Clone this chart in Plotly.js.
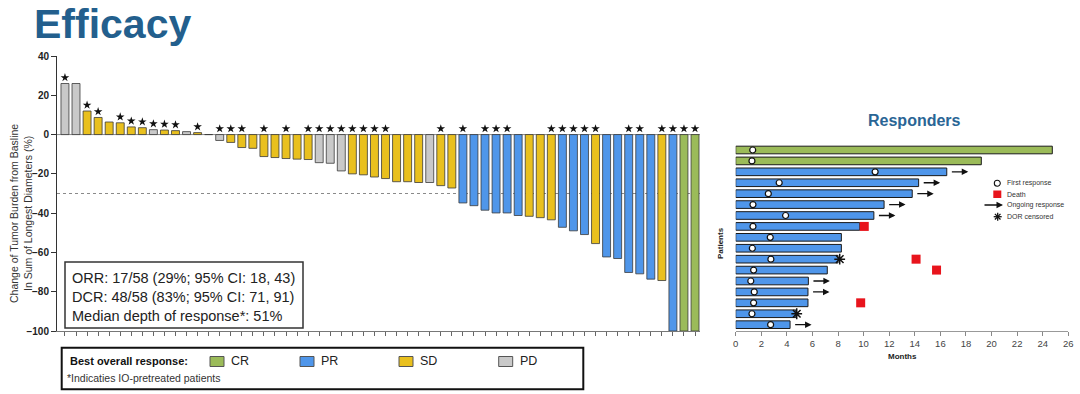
<!DOCTYPE html>
<html>
<head>
<meta charset="utf-8">
<script src="https://cdn.plot.ly/plotly-3.0.1.min.js"></script>
<style>html,body{margin:0;padding:0;background:#fff;}#chart{width:1080px;height:394px;}</style>
</head>
<body>
<div id="chart"></div>
<script>
// ---------- Waterfall data (one entry per patient, sorted) ----------
const wfValues = [26,26,12,8.7,6.4,6,3.9,3.5,2.5,2.3,2,1.5,1,0,-3,-4,-6.6,-7,-11.2,-11.7,-12.2,-12.5,-12.7,-14.3,-14.6,-18.5,-20,-20.5,-21.6,-22.4,-24,-24,-24.4,-24.4,-26,-27.2,-34.8,-36.2,-38.5,-39.9,-39.9,-41.2,-41.6,-42.3,-43.4,-47.2,-49,-50.9,-55.5,-62.3,-63.1,-70.2,-70.9,-73.6,-74.3,-100,-100,-100];
const wfResponse = ['PD','PD','SD','SD','SD','SD','SD','SD','PD','SD','SD','PD','SD','PD','PD','SD','SD','SD','SD','SD','SD','SD','SD','PD','PD','PD','SD','SD','SD','SD','SD','SD','SD','PD','SD','SD','PR','PR','PR','PR','PR','PR','SD','SD','SD','PR','PR','PR','SD','PR','PR','PR','PR','PR','SD','PR','CR','CR'];
const wfIO = [1,0,1,1,0,1,1,1,1,1,1,0,1,0,1,1,1,0,1,0,1,0,1,1,1,1,1,1,1,1,0,0,0,0,1,0,1,0,1,1,1,0,0,0,1,1,1,1,1,0,0,1,1,0,1,1,1,1];
const wfYTicks = [40,20,0,-20,-40,-60,-80,-100];
const thresholdLine = -30;

// ---------- Legend / stats text ----------
const responseCats = ['CR','PR','SD','PD'];
const statsLines = ['ORR: 17/58 (29%; 95% CI: 18, 43)','DCR: 48/58 (83%; 95% CI: 71, 91)','Median depth of response*: 51%'];

// ---------- Swimmer (responders) data ----------
const swResponse = ['CR','CR','PR','PR','PR','PR','PR','PR','PR','PR','PR','PR','PR','PR','PR','PR','PR'];
const swDuration = [24.75,19.2,16.5,14.3,13.8,11.6,10.8,9.7,8.26,8.26,8.0,7.16,5.68,5.65,5.65,4.7,4.25];
const swFirstResp = [1.33,1.27,10.9,3.4,2.55,1.35,3.9,1.35,2.7,1.3,2.75,1.4,1.18,1.45,1.4,1.27,2.73];
const swDeath = [null,null,null,null,null,null,null,10.05,null,null,14.1,15.7,null,null,9.77,null,null];
const swOngoing = [0,0,1,1,1,1,1,0,0,0,0,0,1,1,0,0,1];
const swCensored = [null,null,null,null,null,null,null,null,null,null,8.13,null,null,null,null,4.77,null];
const swIO = [1,1,1,0,1,0,1,1,1,1,1,1,0,1,0,1,0];
const swXTicks = [0,2,4,6,8,10,12,14,16,18,20,22,24,26];

// ---------- styling ----------
const W = 1080, H = 394;
const px = x => x / W;
const py = y => 1 - y / H;
const FONT = 'Liberation Sans, Arial, sans-serif';
const colors = {CR:'#9BBB59', PR:'#4F96EA', SD:'#E9C01E', PD:'#C9C9C9'};

const traces = [];
const idx = wfValues.map((v,i)=>i+1);

responseCats.forEach(cat => {
  const xs = [], ys = [];
  wfValues.forEach((v,i)=>{ if (wfResponse[i]===cat){ xs.push(i+1); ys.push(v);} });
  traces.push({type:'bar', name:cat, x:xs, y:ys, width:0.72, xaxis:'x', yaxis:'y',
    marker:{color:colors[cat], line:{color:'#3a3a3a', width:0.8}}, hoverinfo:'x+y'});
});
// IO-pretreated stars on waterfall
{
  const xs=[], ys=[];
  wfValues.forEach((v,i)=>{ if (wfIO[i]){ xs.push(i+1); ys.push(Math.max(v,0)+3); } });
  traces.push({type:'scatter', mode:'markers', x:xs, y:ys, xaxis:'x', yaxis:'y', cliponaxis:false,
    marker:{symbol:'star', size:6.5, color:'#111'}, hoverinfo:'skip'});
}

// swimmer bars
const rows = swDuration.map((d,i)=>i+1);
traces.push({type:'bar', orientation:'h', x:swDuration, y:rows, base:0, width:0.7, xaxis:'x2', yaxis:'y2',
  marker:{color:swResponse.map(r=>colors[r]), line:{color:'#1a1a1a', width:1}}, hoverinfo:'x'});
// first response
traces.push({type:'scatter', mode:'markers', x:swFirstResp, y:rows, xaxis:'x2', yaxis:'y2',
  marker:{symbol:'circle', size:6, color:'#fff', line:{color:'#111', width:1.2}}, hoverinfo:'x'});
// deaths
{
  const xs=[], ys=[];
  swDeath.forEach((d,i)=>{ if (d!==null){ xs.push(d); ys.push(i+1);} });
  traces.push({type:'scatter', mode:'markers', x:xs, y:ys, xaxis:'x2', yaxis:'y2', cliponaxis:false,
    marker:{symbol:'square', size:9, color:'#E8141C'}, hoverinfo:'x'});
}
// censored
{
  const xs=[], ys=[];
  swCensored.forEach((d,i)=>{ if (d!==null){ xs.push(d); ys.push(i+1);} });
  traces.push({type:'scatter', mode:'markers', x:xs, y:ys, xaxis:'x2', yaxis:'y2', cliponaxis:false,
    marker:{symbol:'asterisk-open', size:9, color:'#111', line:{color:'#111', width:1.5}}, hoverinfo:'x'});
}
// IO stars on swimmer
{
  const xs=[], ys=[];
  swIO.forEach((f,i)=>{ if (f){ xs.push(-0.39); ys.push(i+1);} });
  traces.push({type:'scatter', mode:'markers', x:xs, y:ys, xaxis:'x2', yaxis:'y2', cliponaxis:false,
    marker:{symbol:'star', size:6, color:'#111'}, hoverinfo:'skip'});
}

const shapes = [];
const annotations = [];

// zero line and threshold line
shapes.push({type:'line', xref:'x domain', yref:'y', x0:0, x1:1, y0:0, y1:0, line:{color:'#8a8a8a', width:1}, layer:'below'});
shapes.push({type:'line', xref:'x domain', yref:'y', x0:0, x1:1, y0:thresholdLine, y1:thresholdLine, line:{color:'#8a8a8a', width:1, dash:'dot'}, layer:'below'});

// stats box
shapes.push({type:'rect', xref:'paper', yref:'paper', x0:px(65), x1:px(303), y0:py(328), y1:py(262), line:{color:'#333', width:1.5}, fillcolor:'#fff'});
const statsY = [277.5, 296.5, 315.5];
statsLines.forEach((t,i)=>{
  annotations.push({xref:'paper', yref:'paper', x:px(71), y:py(statsY[i]), xanchor:'left', yanchor:'middle', showarrow:false,
    text:t, borderpad:0, font:{family:FONT, size:14.5, color:'#222'}});
});

// waterfall legend box
shapes.push({type:'rect', xref:'paper', yref:'paper', x0:px(61.7), x1:px(583.3), y0:py(389.3), y1:py(347.7), line:{color:'#111', width:2}});
annotations.push({xref:'paper', yref:'paper', x:px(68.5), y:py(361), xanchor:'left', yanchor:'middle', showarrow:false, borderpad:0,
  text:'<b>Best overall response:</b>', font:{family:FONT, size:11, color:'#111'}});
annotations.push({xref:'paper', yref:'paper', x:px(66), y:py(377.5), xanchor:'left', yanchor:'middle', showarrow:false, borderpad:0,
  text:'*Indicaties IO-pretreated patients', font:{family:FONT, size:10.5, color:'#333'}});
const swatchX = [210, 300, 399, 498.7];
responseCats.forEach((c,i)=>{
  shapes.push({type:'rect', xref:'paper', yref:'paper', x0:px(swatchX[i]), x1:px(swatchX[i]+14), y0:py(366.5), y1:py(356.5),
    fillcolor:colors[c], line:{color:'#555', width:1}});
  annotations.push({xref:'paper', yref:'paper', x:px(swatchX[i]+20), y:py(361), xanchor:'left', yanchor:'middle', showarrow:false, borderpad:0,
    text:c, font:{family:FONT, size:12.5, color:'#222'}});
});

// waterfall y-axis title (two lines)
annotations.push({xref:'paper', yref:'paper', x:px(14), y:py(214), xanchor:'center', yanchor:'middle', textangle:-90, showarrow:false, borderpad:0,
  text:'Change of Tumor Burden from Basline', font:{family:FONT, size:10.5, color:'#333'}});
annotations.push({xref:'paper', yref:'paper', x:px(28), y:py(214), xanchor:'center', yanchor:'middle', textangle:-90, showarrow:false, borderpad:0,
  text:'In Sum of Longest Diameters (%)', font:{family:FONT, size:10.5, color:'#333'}});

// main title
annotations.push({xref:'paper', yref:'paper', x:px(33), y:py(24), xanchor:'left', yanchor:'middle', showarrow:false, borderpad:0,
  text:'<b>Efficacy</b>', font:{family:FONT, size:41, color:'#235F8D'}});

// swimmer title
annotations.push({xref:'paper', yref:'paper', x:px(914.7), y:py(121), xanchor:'center', yanchor:'middle', showarrow:false, borderpad:0,
  text:'<b>Responders</b>', font:{family:FONT, size:16, color:'#2A6595'}});
// swimmer axis titles
annotations.push({xref:'paper', yref:'paper', x:px(902), y:py(356), xanchor:'center', yanchor:'middle', showarrow:false, borderpad:0,
  text:'<b>Months</b>', font:{family:FONT, size:8, color:'#222'}});
annotations.push({xref:'paper', yref:'paper', x:px(720), y:py(243), xanchor:'center', yanchor:'middle', textangle:-90, showarrow:false, borderpad:0,
  text:'<b>Patients</b>', font:{family:FONT, size:8, color:'#222'}});

// ongoing-response arrows
swOngoing.forEach((f,i)=>{
  if (!f) return;
  annotations.push({xref:'x2', yref:'y2', axref:'x2', ayref:'y2', x:swDuration[i]+1.68, y:i+1, ax:swDuration[i]+0.28, ay:i+1,
    text:'', showarrow:true, arrowhead:2, arrowsize:1, arrowwidth:1.3, arrowcolor:'#111', standoff:0, startstandoff:0});
});

// swimmer legend
shapes.push({type:'circle', xref:'paper', yref:'paper', x0:px(994.3), x1:px(1000.3), y0:py(186.3), y1:py(180.3), line:{color:'#111', width:1.1}, fillcolor:'#fff'});
shapes.push({type:'rect', xref:'paper', yref:'paper', x0:px(993.3), x1:px(1001.3), y0:py(198), y1:py(190.5), line:{width:0}, fillcolor:'#E8141C'});
{
  const cx=997.7, cy=216.7, r=4;
  [[r,0],[0,r],[r*0.7,r*0.7],[r*0.7,-r*0.7]].forEach(([dx,dy])=>{
    shapes.push({type:'line', xref:'paper', yref:'paper', x0:px(cx-dx), x1:px(cx+dx), y0:py(cy-dy), y1:py(cy+dy), line:{color:'#111', width:1.3}});
  });
}
annotations.push({xref:'paper', yref:'paper', x:px(1003), y:py(205), ax:-20, ay:0, text:'', showarrow:true, arrowhead:2, arrowsize:1, arrowwidth:1.3, arrowcolor:'#111', standoff:0});
const swLegText = ['First response','Death','Ongoing response','DOR censored'];
const swLegY = [183.3, 194.3, 205, 216.7];
swLegText.forEach((t,i)=>{
  annotations.push({xref:'paper', yref:'paper', x:px(1006), y:py(swLegY[i]), xanchor:'left', yanchor:'middle', showarrow:false, borderpad:0,
    text:t, font:{family:FONT, size:7, color:'#333'}});
});

const layout = {
  width:W, height:H, margin:{l:0,r:0,t:0,b:0}, paper_bgcolor:'#fff', plot_bgcolor:'rgba(0,0,0,0)',
  showlegend:false, barmode:'overlay', font:{family:FONT},
  xaxis:{domain:[px(57), px(700)], range:[0.28, 58.45], anchor:'y', tickvals:idx, showticklabels:false,
    ticks:'outside', ticklen:4, tickcolor:'#666', tickwidth:1, showline:true, linecolor:'#777', linewidth:1,
    showgrid:false, zeroline:false, fixedrange:true},
  yaxis:{domain:[py(331), py(56)], range:[-100,40], anchor:'x', tickvals:wfYTicks, ticks:'outside', ticklen:5,
    tickcolor:'#333', showline:true, linecolor:'#333', linewidth:1, showgrid:false, zeroline:false,
    tickfont:{family:FONT, size:10, color:'#222', weight:'bold'}, fixedrange:true},
  xaxis2:{domain:[px(735.7), px(1068.3)], range:[0,26], anchor:'y2', tickvals:swXTicks, ticks:'outside', ticklen:4,
    tickcolor:'#888', showline:true, linecolor:'#999', linewidth:1, showgrid:false, zeroline:false,
    tickfont:{family:FONT, size:9.5, color:'#444'}, fixedrange:true},
  yaxis2:{domain:[py(331), py(140)], range:[17.58, 0.084], anchor:'x2', showticklabels:false, ticks:'',
    showline:false, showgrid:false, zeroline:false, fixedrange:true},
  shapes:shapes, annotations:annotations
};

Plotly.newPlot('chart', traces, layout, {displayModeBar:false, staticPlot:true});
</script>
</body>
</html>
